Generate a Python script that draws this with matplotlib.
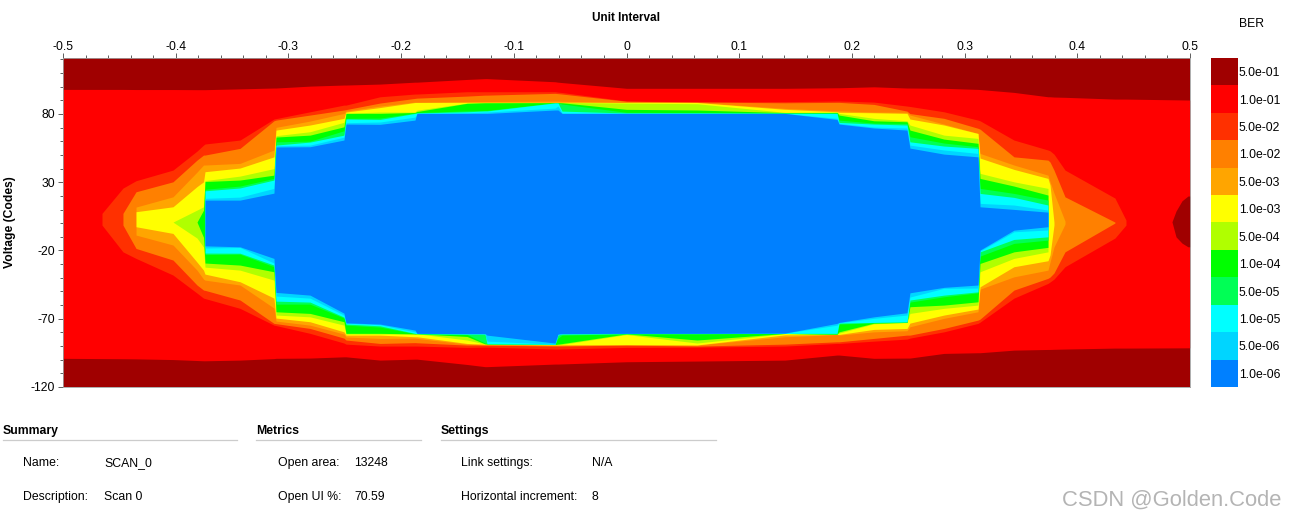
import numpy as np
import matplotlib
matplotlib.use('Agg')
import matplotlib.pyplot as plt

plt.rcParams['font.family'] = ['Liberation Sans', 'DejaVu Sans']

# scan columns (UI)
ui = [-0.5, -0.4654, -0.4468, -0.4352, -0.4024, -0.3811, -0.3753, -0.374, -0.3429, -0.3128, -0.311, -0.2808, -0.2507, -0.2489,
      -0.2187, -0.1877, -0.1859, -0.1415, -0.1256, -0.1238, -0.0634, -0.0608, -0.0572, 0.0, 0.0626, 0.1406, 0.1868, 0.1886,
      0.2196, 0.2489, 0.2515, 0.2817, 0.3119, 0.3137, 0.3438, 0.374, 0.3758, 0.3793, 0.3891, 0.4334, 0.4432, 0.5]

ber_labels = ['5.0e-01', '1.0e-01', '5.0e-02', '1.0e-02', '5.0e-03', '1.0e-03',
              '5.0e-04', '1.0e-04', '5.0e-05', '1.0e-05', '5.0e-06', '1.0e-06']
ber_colors = ['#a00000', '#ff0000', '#ff3000', '#ff8000', '#ffa500', '#ffff00',
              '#b0ff00', '#00ff00', '#00ff55', '#00ffff', '#00d5ff', '#0080ff']

# upper and lower contour in codes for every BER level, first column of each is in the starts list
top_1e1 = [98, 98, 98, 97.9, 97.9, 97.8, 97.8, 97.8, 98.4, 99, 99, 100.4, 101.2, 101.2, 101.9, 103.3, 103.3, 105.3, 105.9, 105.9,
           103.6, 103.3, 103, 98.8, 98.8, 98.8, 99.2, 99.2, 99.9, 99, 99, 98.8, 98, 97.9, 95.8, 92.6, 92.6, 92.4, 92.2, 90.9, 90.9, 90.2]
bot_1e1 = [-99, -99.2, -99.3, -99.4, -99.9, -100.6, -100.8, -100.8, -100.3, -99.2, -99, -98.8, -97.9, -97.9, -100.3, -99.6, -99.6,
           -103.5, -105.1, -105.1, -103.2, -103.2, -103.1, -101.5, -101, -100.3, -96.6, -96.6, -99, -98.8, -98.8, -95.4, -94.9,
           -94.9, -93, -92.5, -92.5, -92.4, -92.2, -91.5, -91.5, -91.3]
top_5e2 = [7.2, 25.7, 31.1, 38.9, 52.8, 57.2, 58, 60.9, 76.3, 76.6, 81.6, 86.5, 86.5, 92.6, 94.6, 94.6, 96.3, 96.3, 96.3, 96.3, 96, 95.7,
           89.5, 88.9, 89, 89.5, 89.5, 88.7, 85.8, 85.5, 81.6, 75.5, 75, 60.9, 53.6, 53, 50.6, 38.9, 18.4, 2.3]
bot_5e2 = [-1.4, -21, -25.8, -38, -51.2, -54.9, -55.2, -62.4, -74.7, -75, -80.7, -87.8, -88.6, -90, -90, -90, -91, -90.8, -90.8, -92.2, -92.2, -92.1,
           -91, -90.8, -90, -88.1, -88.1, -86.4, -84.9, -84.2, -79.6, -73.4, -72.5, -54.9, -44.1, -43.1, -41, -31.9, -10.9, -1.4]
top_1e2 = [7.2, 23, 30.3, 46.2, 49.9, 49.9, 54.8, 75, 75.5, 79.2, 82.9, 83.2, 88, 91.4, 91.6, 93.1, 93.8, 93.8, 95.1, 94.9, 94.6,
           89.3, 88.7, 88.2, 88.5, 88.5, 87, 82.1, 80.3, 76.8, 69.5, 68.9, 48.6, 46.2, 44.8, 38.9, 19.3, 0.8]
bot_1e2 = [-1.4, -18.5, -27, -45.3, -49, -49.2, -56.3, -73.4, -73.6, -77.1, -84.2, -85.6, -88.1, -87.5, -87.6, -89.3, -89.3, -89.3, -90, -90, -90,
           -89.3, -90, -88.6, -86.9, -86.9, -84.4, -82, -82, -77.1, -71, -70.3, -49, -40.4, -39.5, -36.5, -21, 0.1]
top_5e3 = [11.8, 19.3, 37.4, 42.6, 42.6, 43.8, 53.6, 70.2, 74.8, 80.4, 82.1, 85.8, 88.7, 88.7, 88.9, 89.1, 89.1, 89.5, 89.5, 89.3,
           88.6, 88.5, 84.1, 82.3, 82.3, 81.4, 81.2, 79.2, 72.6, 65.8, 51.1, 42.6, 35.2, 30.3, 22.1, 1.5]
bot_5e3 = [-8.7, -16, -34.4, -41, -41.7, -45.3, -62.2, -71.7, -74.7, -81.2, -83.4, -84.4, -84.2, -84.4, -88.6, -89.1, -89.1, -89.5, -89.5, -89.5,
           -89.2, -89.3, -83.2, -81.6, -82, -79.6, -78.8, -75.9, -69.7, -64.9, -48.3, -39.3, -34.4, -28.5, -17.5, -0.7]
top_1e3 = [8.4, 12, 26.8, 30.3, 37.7, 40.4, 48.6, 68.2, 71.9, 76.8, 81.4, 84.7, 88.4, 88.4, 88.5, 88.5, 88.5, 88.5, 88.5, 88.5,
           88.4, 88.4, 83.4, 81.6, 81.2, 80.9, 80.4, 76.3, 71.9, 65.7, 47.7, 39.4, 32.8, 27.9, 0.8]
bot_1e3 = [-2.6, -7.5, -28.5, -34.4, -37.3, -42.9, -54.9, -69.5, -72.2, -79.6, -82, -82, -83.2, -83.2, -88.1, -88.6, -88.6, -89.1, -89.1, -89.1,
           -88.9, -89.2, -81.8, -81.5, -81.5, -77.8, -77.1, -73.2, -67.3, -62.9, -46.6, -31.9, -27.5, -23.3, -1.4]
top_5e4 = [0.8, 9.6, 12, 31.2, 34.5, 40, 64.1, 67, 73.9, 80.6, 81.4, 81.4, 82.8, 88, 88.3, 88.3, 88.4, 88.4, 88.4,
           88, 87.5, 81.2, 81.4, 80.4, 76.8, 75, 71.9, 64.5, 62.1, 36.5, 30.3, 25.5]
bot_5e4 = [0.8, -10.9, -17.5, -32.2, -34.4, -41.7, -67.3, -68.6, -74.7, -81.2, -81.2, -81.2, -81, -85.6, -88.5, -88.6, -89, -88.9, -88.8,
           -81.6, -87.8, -80.9, -81.5, -80.5, -73.7, -72.8, -66.1, -62.4, -60, -35.6, -25.8, -21]
top_1e4 = [0.8, 9.6, 30.5, 31.6, 35.2, 63.1, 64.5, 70.6, 80.4, 80.4, 81.1, 81.8, 87.8, 88.2, 88.2, 88.3, 88.3, 88.2,
           83.4, 82.9, 81, 81.1, 79.2, 75, 74.3, 68.2, 61.6, 58.5, 32.8, 27.2, 20.6]
bot_1e4 = [0.8, -10.4, -29.2, -30.7, -35.6, -64.9, -66.1, -72.2, -80.7, -80.7, -81.1, -81, -83, -88.4, -88.5, -88.9, -88.6, -88.2,
           -81.1, -85.6, -80.8, -81.3, -79.6, -73.2, -72.7, -61.2, -60, -57.6, -29.5, -21, -17.7]
top_5e5 = [24.8, 27.2, 32.8, 59.6, 60.1, 67.7, 76.8, 77, 80.7, 81, 82.3, 82.6, 82.6, 88.2, 88.2, 87.3,
           81.2, 81, 80.7, 80.7, 75.5, 73.3, 73.1, 63.3, 58.7, 56, 25.5, 21.8, 16.9]
bot_5e5 = [-23, -22.7, -31.9, -59.3, -59.3, -69.5, -74.7, -76.1, -81, -81, -81.5, -87.8, -88.4, -88.8, -84.2, -82,
           -81, -81, -80.8, -81.2, -73.9, -73, -72.6, -57.8, -53.9, -51, -24.1, -14.8, -12.4]
top_1e5 = [23.7, 25.8, 31.6, 57.2, 59.4, 64.5, 76.3, 76, 80.4, 80.7, 81.6, 82.2, 82.2, 88.1, 88.1, 82.1,
           80.7, 80.7, 80.5, 80.4, 73.8, 72.6, 71.9, 59.6, 56.5, 54.8, 21.8, 18.9, 13.3]
bot_1e5 = [-21.9, -22, -30.7, -57.1, -57.8, -68.8, -73.9, -75.2, -80.7, -80.9, -81.2, -81.2, -88.3, -88.7, -82, -81.2,
           -80.9, -80.9, -80.7, -80.7, -73.2, -72.7, -72.2, -56.3, -52.7, -50.3, -21, -11.9, -10]
top_5e6 = [18.2, 19.1, 25.5, 56.7, 57.2, 63, 73.6, 74.1, 77.7, 80.5, 80.9, 81.4, 81.4, 84.3, 85.8, 80.7,
           80.5, 80.5, 80.4, 76.8, 73.1, 70.4, 69.7, 57.2, 53.6, 51.1, 14.5, 13.3, 9.6]
bot_5e6 = [-18.2, -17.8, -29.2, -53.4, -54.9, -67.3, -73.3, -74.4, -79.6, -80.8, -81, -81, -86.4, -88.6, -81.5, -81,
           -80.8, -80.8, -80.6, -74.7, -73, -69.7, -67.3, -54.1, -47.7, -47.5, -20.4, -6.3, -5]
top_1e6 = [16.9, 16.9, 22, 55.8, 56, 60.9, 72.6, 72.4, 75.5, 80.4, 80.4, 80.4, 80.4, 82.9, 82.9, 80.4,
           80.4, 80.4, 80.4, 76, 72.6, 69.7, 68.2, 55, 50.6, 48.6, 12, 10.1, 8.1]
bot_1e6 = [-16.6, -17.3, -25.8, -50.7, -52.7, -65.9, -73, -73.9, -78.3, -80.7, -80.9, -80.9, -82, -87.8, -81.2, -80.9,
           -80.7, -80.7, -80.5, -73.4, -72.7, -68.6, -65.6, -51, -47, -45.3, -19.7, -5.1, -2.6]

tops = [top_1e1, top_5e2, top_1e2, top_5e3, top_1e3, top_5e4, top_1e4, top_5e5, top_1e5, top_5e6, top_1e6]
bots = [bot_1e1, bot_5e2, bot_1e2, bot_5e3, bot_1e3, bot_5e4, bot_1e4, bot_5e5, bot_1e5, bot_5e6, bot_1e6]
starts = [0, 1, 2, 3, 3, 4, 5, 7, 7, 7, 7]

# dark patch on the right edge
patch_ui = [0.484, 0.4876, 0.4929, 0.4982, 0.5]
patch_top = [1, 8.9, 16.4, 19.9, 19.9]
patch_bot = [1, -10, -14.6, -17.3, -17.3]

summary = [('Name:', 'SCAN_0'), ('Description:', 'Scan 0')]
metrics = [('Open area:', '13248'), ('Open UI %:', '70.59')]
settings = [('Link settings:', 'N/A'), ('Horizontal increment:', '8')]

W, H = 1290, 521
fig = plt.figure(figsize=(W / 100, H / 100), dpi=100)

def box(x0, y0, x1, y1):
    return [x0 / W, 1 - y1 / H, (x1 - x0) / W, (y1 - y0) / H]

def txt(x, y, s, **kw):
    kw.setdefault('fontsize', 8.8)
    kw.setdefault('va', 'center')
    fig.text(x / W, 1 - y / H, s, **kw)

ax = fig.add_axes(box(63, 58, 1190, 387))
ax.set_facecolor(ber_colors[0])
ui = np.array(ui)
for i in range(len(tops)):
    xs = ui[starts[i]:starts[i] + len(tops[i])]
    ax.fill_between(xs, bots[i], tops[i], color=ber_colors[i + 1], lw=0)
ax.fill_between(patch_ui, patch_bot, patch_top, color=ber_colors[0], lw=0)

ax.set_xlim(-0.5, 0.5)
ax.set_ylim(-120, 121)
ax.xaxis.tick_top()
ax.set_xticks(np.arange(-5, 6) / 10)
ax.set_xticklabels(['-0.5', '-0.4', '-0.3', '-0.2', '-0.1', '0', '0.1', '0.2', '0.3', '0.4', '0.5'])
ax.set_xticks(np.arange(-25, 26) / 50, minor=True)
ax.set_yticks([-120, -70, -20, 30, 80])
ax.set_yticklabels(['-120', '-70', '-20', '30', '80'])
ax.set_yticks(np.arange(-120, 121, 10), minor=True)
ax.tick_params(which='major', length=3.5, width=0.6, color='#444444', labelsize=8.7, pad=2)
ax.tick_params(which='minor', length=2.2, width=0.6, color='#444444')
ax.tick_params(axis='x', which='both', top=True, bottom=False, pad=0.2)
for sp in ax.spines.values():
    sp.set_color('#a0a0a0')
    sp.set_linewidth(0.6)

txt(626, 18, 'Unit Interval', fontsize=8.5, fontweight='bold', ha='center')
txt(10.5, 222, 'Voltage (Codes)', fontsize=8.7, fontweight='bold', ha='center', rotation=90)

# colour legend
cax = fig.add_axes(box(1211, 58, 1238, 387))
cax.bar(np.zeros(len(ber_colors)), np.ones(len(ber_colors)), width=1,
        bottom=np.arange(len(ber_colors))[::-1], color=ber_colors, lw=0)
cax.set_xlim(-0.5, 0.5)
cax.set_ylim(0, len(ber_colors))
cax.set_xticks([])
cax.yaxis.tick_right()
cax.set_yticks(np.arange(len(ber_labels))[::-1] + 0.5)
cax.set_yticklabels(ber_labels)
cax.tick_params(length=0, labelsize=8.8, pad=0.5)
for sp in cax.spines.values():
    sp.set_visible(False)
txt(1239, 24, 'BER', fontsize=8.7)

# tables under the plot
for title, rows, x0, x1, xl, xv in [('Summary', summary, 3, 237, 23, 104),
                                    ('Metrics', metrics, 256, 421, 278, 354),
                                    ('Settings', settings, 441, 716, 461, 592)]:
    txt(x0, 431, title, fontweight='bold')
    fig.add_artist(plt.Line2D([x0 / W, x1 / W], [1 - 439.5 / H] * 2, color='#cccccc', lw=0.9))
    for (label, value), y in zip(rows, [463, 497]):
        txt(xl, y, label)
        txt(xv, y, value)

txt(1062, 500, 'CSDN @Golden.Code', fontsize=15.8, color='#b4b4b4')

fig.savefig('out.png', dpi=100)
